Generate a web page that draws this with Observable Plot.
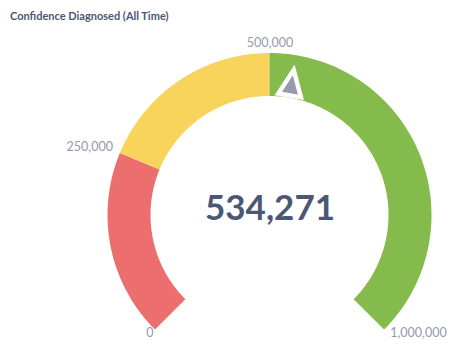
<!DOCTYPE html>
<html>
<head>
<meta charset="utf-8">
<script src="https://cdn.jsdelivr.net/npm/d3@7"></script>
<script src="https://cdn.jsdelivr.net/npm/@observablehq/plot@0.6"></script>
<style>
  html, body { margin: 0; padding: 0; background: #fff; }
  #title { height: 28px; box-sizing: border-box; padding: 9px 0 0 10px; font: bold 11px Lato, sans-serif; color: #4C5773; }
  svg { display: block; }
</style>
</head>
<body>
<div id="title"></div>
<div id="chart"></div>
<script>
const chartTitle = "Confidence Diagnosed (All Time)";
const bandStarts = [0, 250000, 500000];
const bandEnds = [250000, 500000, 1000000];
const bandColors = ["#ED6E6E", "#F9D45C", "#84BB4C"];
const tickValues = [0, 250000, 500000, 1000000];
const tickLabels = ["0", "250,000", "500,000", "1,000,000"];
const tickAnchors = ["middle", "end", "middle", "start"];
const gaugeValue = 534271;

document.getElementById("title").textContent = chartTitle;

const W = 474, H = 325;
const cx = 269.5, cy = 187;          // gauge centre inside the SVG
const rOuter = 162, rInner = 119, rLabel = 170;
const angle = d3.scaleLinear([0, 1000000], [-135, 135]); // degrees, clockwise from up
const rad = d => angle(d) * Math.PI / 180;
const px = (v, r) => r * Math.sin(rad(v));
const py = (v, r) => r * Math.cos(rad(v));

// arc band geometry from the band values
const arcPts = [];
bandStarts.forEach((s, i) => {
  const e = bandEnds[i], n = 80;
  for (let k = 0; k <= n; k++) {
    const v = s + (e - s) * k / n;
    arcPts.push({band: i, color: bandColors[i],
      xo: px(v, rOuter), yo: py(v, rOuter), xi: px(v, rInner), yi: py(v, rInner)});
  }
});

// needle triangle from the value
const th = rad(gaugeValue);
const u = [Math.sin(th), Math.cos(th)], p = [Math.cos(th), -Math.sin(th)];
const rTip = 142, rBase = 124, hw = 8;
const needle = [
  {x: rTip * u[0], y: rTip * u[1]},
  {x: rBase * u[0] + hw * p[0], y: rBase * u[1] + hw * p[1]},
  {x: rBase * u[0] - hw * p[0], y: rBase * u[1] - hw * p[1]},
  {x: rTip * u[0], y: rTip * u[1]}
];

const ticks = tickValues.map((v, i) => ({x: px(v, rLabel), y: py(v, rLabel), label: tickLabels[i], anchor: tickAnchors[i]}));

const chart = Plot.plot({
  width: W, height: H,
  margin: 0,
  x: {type: "linear", domain: [-cx, W - cx], range: [0, W], axis: null},
  y: {type: "linear", domain: [-(H - cy), cy], range: [H, 0], axis: null},
  color: {type: "identity"},
  style: {fontFamily: "Lato, sans-serif", background: "#fff"},
  marks: [
    Plot.area(arcPts, {x1: "xo", y1: "yo", x2: "xi", y2: "yi", z: "band", fill: "color", curve: "linear"}),
    Plot.line(needle, {x: "x", y: "y", fill: "#959AAD", stroke: "#fff", strokeWidth: 9, strokeLinejoin: "miter", strokeMiterlimit: 10, paintOrder: "stroke", curve: "linear-closed"}),
    ...["middle", "end", "start"].map(a => Plot.text(ticks.filter(t => t.anchor === a), {
      x: "x", y: "y", dy: -3, text: "label", textAnchor: a, fill: "#949AAB", fontSize: 12.5
    })),
    Plot.text([gaugeValue], {x: () => 0, y: () => 0, dy: -7, text: d => d3.format(",")(d),
      fill: "#4C5773", fontSize: 35, fontWeight: "bold"})
  ]
});
document.getElementById("chart").appendChild(chart);
</script>
</body>
</html>
